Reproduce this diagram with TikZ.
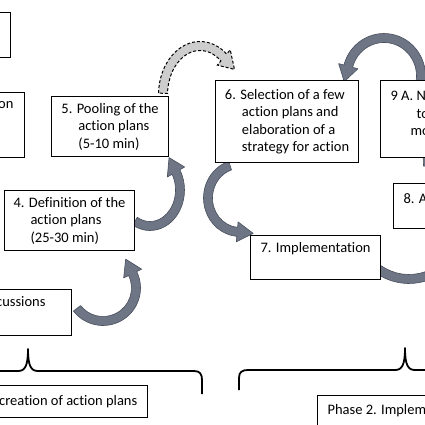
\documentclass[tikz,border=0pt]{standalone}
\usepackage{fontspec}
\setmainfont{Carlito}[Ligatures=NoCommon]
\usetikzlibrary{calc}
\definecolor{arrowgray}{RGB}{110,118,134}
\definecolor{arrowedge}{RGB}{72,78,92}
\definecolor{dashgray}{RGB}{205,205,205}
\tikzset{
  stepbox/.style={
    draw=black,
    fill=white,
    line width=1.1pt,
    inner xsep=9pt,
    inner ysep=0pt,
    align=left,
    anchor=north west,
    font=\fontsize{14.5}{17.5}\selectfont
  },
  bendarrow/.style={
    fill=arrowgray,
    draw=arrowedge,
    line width=0.6pt,
    line join=round
  },
  dasharrow/.style={
    fill=dashgray,
    draw=black,
    line width=1pt,
    dash pattern=on 3pt off 2pt
  },
  bracket/.style={draw=black, line width=1.8pt, line join=round}
}
\newcommand{\listindent}{\hspace*{17pt}}
% bent block arrow: [style], centre, x radius, y radius, from angle, to angle, sense
\newcommand{\bentarrow}[7][bendarrow]{
  \pgfmathsetmacro\tipdir{atan2((#7)*#4*cos(#6), -(#7)*#3*sin(#6))}
  \filldraw[#1] ($(#2)+({(#3+4.5)*cos(#5)},{(#4+4.5)*sin(#5)})$)
    arc[start angle=#5, end angle=#6, x radius=#3+4.5, y radius=#4+4.5]
    -- ($(#2)+({(#3+10)*cos(#6)},{(#4+10)*sin(#6)})$)
    -- ($(#2)+({#3*cos(#6)},{#4*sin(#6)})+(\tipdir:16)$)
    -- ($(#2)+({(#3-10)*cos(#6)},{(#4-10)*sin(#6)})$)
    -- ($(#2)+({(#3-4.5)*cos(#6)},{(#4-4.5)*sin(#6)})$)
    arc[start angle=#6, end angle=#5, x radius=#3-4.5, y radius=#4-4.5]
    -- cycle;
}

\begin{document}
\begin{tikzpicture}[x=1pt,y=-1pt]
  \useasboundingbox (0,0) rectangle (425,425);
  \clip (0,0) rectangle (425,425);
  % Arrows (behind the boxes)
  \bentarrow{103,288}{33}{33}{142}{-26}{-1}
  \bentarrow{150,190}{30}{36}{120}{-30}{-1}
  \bentarrow[dasharrow]{200,95}{37}{49}{182}{310}{1}
  \bentarrow{240,198}{32}{34}{252}{95}{-1}
  \bentarrow{409,226}{53}{53}{125}{-20}{-1}
  \bentarrow{384,76}{37}{38}{10}{-165}{-1}
  \filldraw[bendarrow] (423,150) -- (431,150) -- (431,167) -- (423.5,166) -- cycle;
  % Phase 1
  \node[stepbox, minimum width=60pt, minimum height=45pt] (intro) at (-50,12) {};
  \node[stepbox, anchor=north east, minimum width=37.3pt, minimum height=65pt] (share) at (25,92) {on\\\strut\\\strut};
  \node[stepbox, minimum width=117pt, minimum height=60pt] (pooling) at (51,96)
    {5. Pooling of the\\\listindent action plans\\\listindent (5-10 min)};
  \node[stepbox, minimum width=129pt, minimum height=60pt] (definition) at (4,190)
    {4. Definition of the\\\listindent action plans\\\listindent (25-30 min)};
  \node[stepbox, anchor=north east, minimum width=101.3pt, minimum height=46pt] (discussion) at (72,289) {cussions\\\strut};
  \node[stepbox, anchor=north east, minimum width=158.4pt, minimum height=32pt] (phaseone) at (148,385) {creation of action plans};
  % Phase 2
  \node[stepbox, minimum width=143pt, minimum height=82pt] (selection) at (215,80)
    {6. Selection of a few\\\listindent action plans and\\\listindent elaboration of a\\\listindent strategy for action};
  \node[stepbox, inner xsep=10pt, minimum height=77pt] (newplans) at (380,80)
    {9 A. N\\\hspace*{26pt}to\\\hspace*{20pt}mo\\[-12pt]\strut};
  \node[stepbox, inner xsep=10pt, minimum height=45pt] (assess) at (393,183) {8. A\\[-8pt]\strut};
  \node[stepbox, minimum width=130pt, minimum height=44pt] (implementation) at (250,235) {\strut 7. Implementation\\\strut};
  \node[stepbox, inner xsep=10pt, minimum height=29.7pt] (phasetwo) at (317,395) {Phase 2. Implementation};
  % Braces
  \draw[bracket] (-10,371) -- (18,371) .. controls (25,371) and (28,366) .. (28,349)
    .. controls (28,366) and (31,371) .. (38,371) -- (194,371)
    .. controls (200,371) and (202,374) .. (202,380) -- (202,394);
  \draw[bracket] (239,390) -- (239,378) .. controls (239,372) and (242,370) .. (248,370)
    -- (395,370) .. controls (402,370) and (405,365) .. (405,348)
    .. controls (405,365) and (408,370) .. (415,370) -- (440,370);
\end{tikzpicture}
\end{document}
